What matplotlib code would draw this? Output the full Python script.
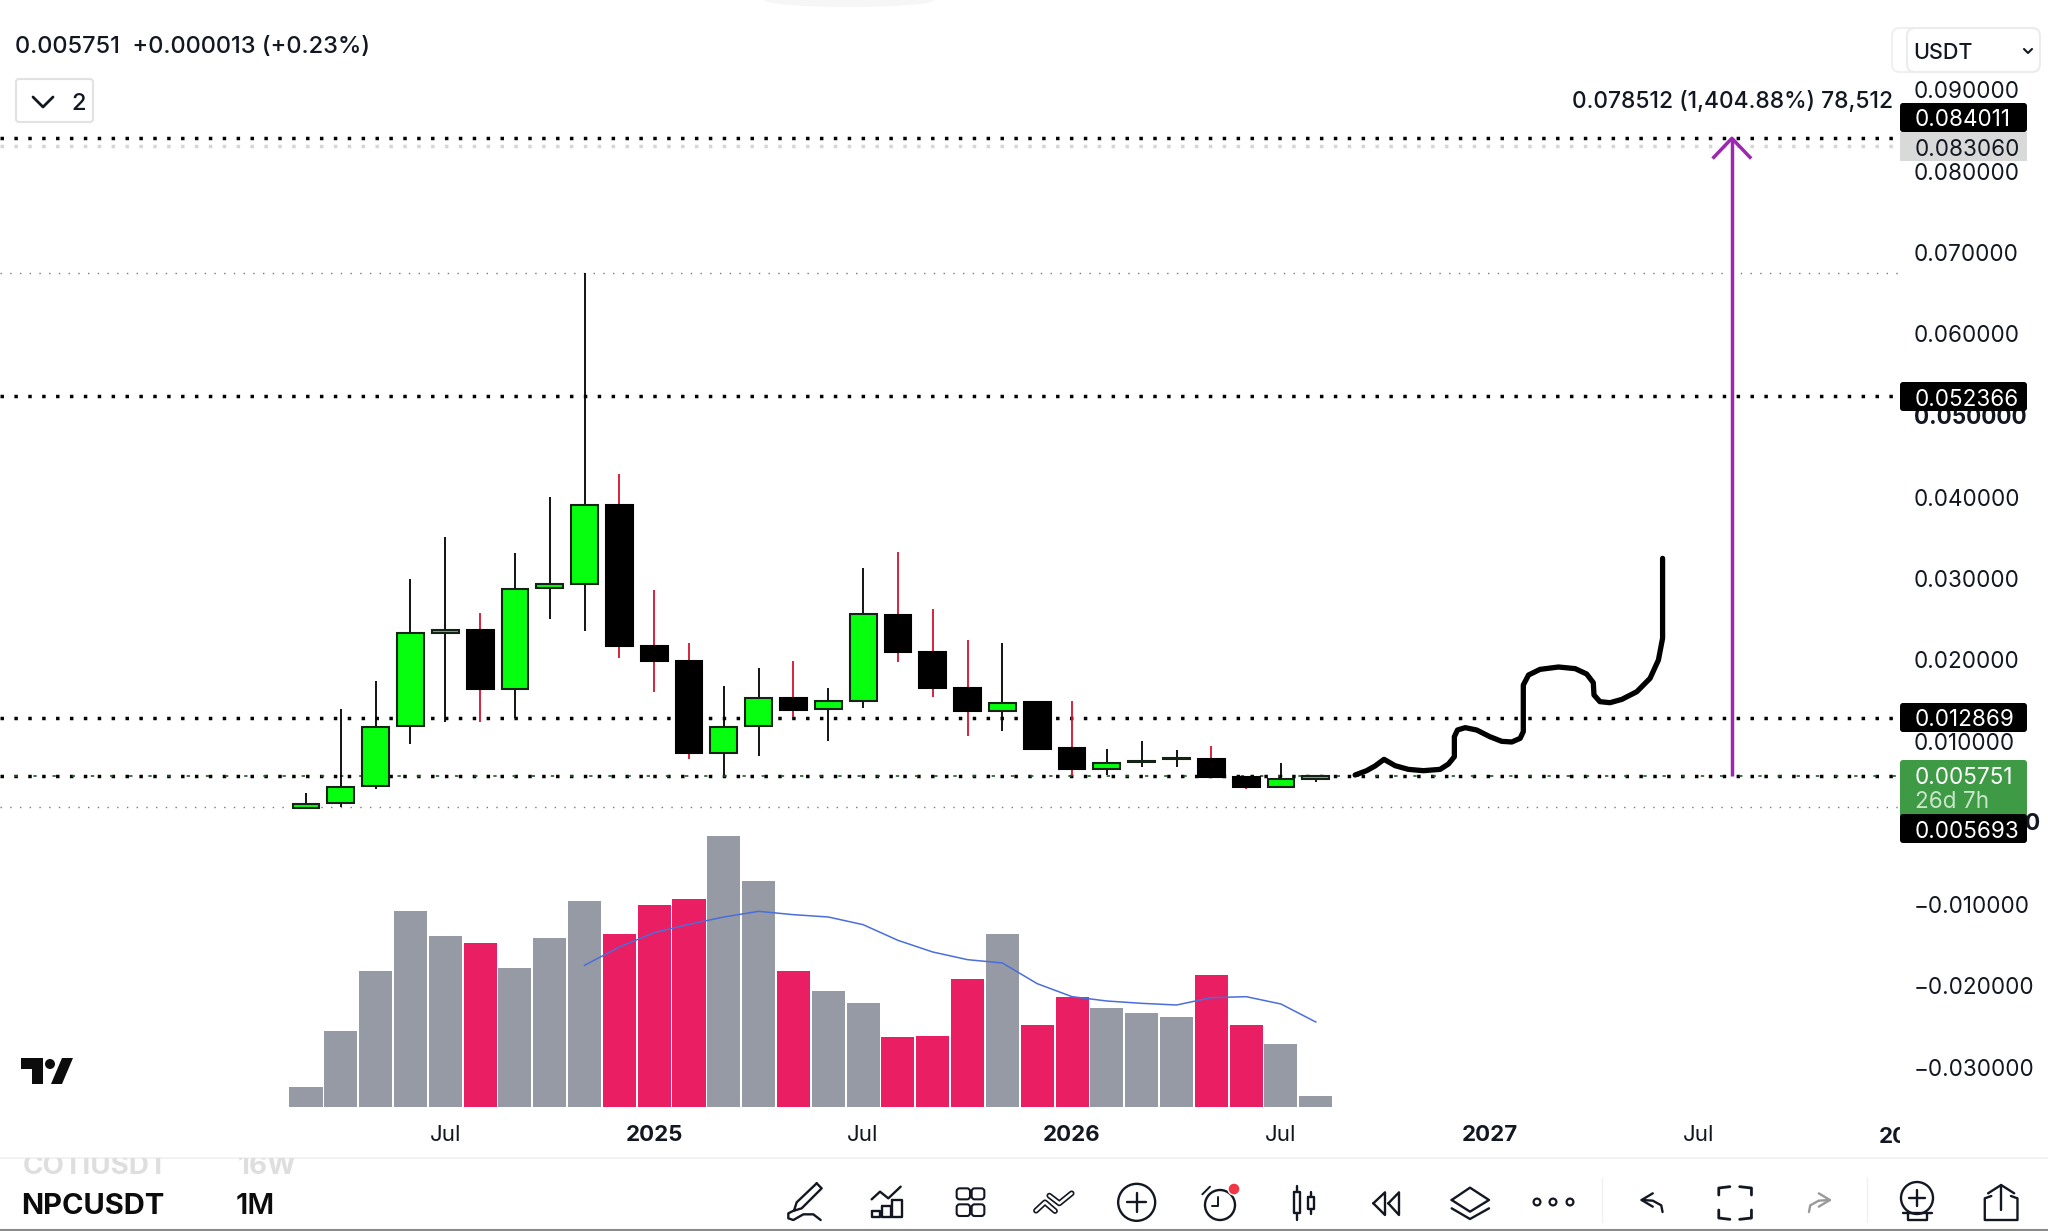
import matplotlib
matplotlib.use('Agg')
import matplotlib.pyplot as plt
from matplotlib.patches import Rectangle, FancyBboxPatch, Circle, Polygon, Ellipse
from matplotlib.transforms import Bbox

plt.rcParams['font.family'] = ['Inter', 'DejaVu Sans']

# monthly candles, index 0 = Mar 2024
opens = [.00186, .00245, .00449, .01185, .02333, .02374, .01648, .02878, .02928, .03899,
         .02170, .01993, .00858, .01185, .01534, .01395, .01501, .02556, .02098, .01660,
         .01370, .01481, .00916, .00667, .00752, .00790, .00789, .00564, .00442, .00540]
closes = [.00236, .00440, .01176, .02329, .02370, .01643, .02873, .02928, .03899, .02170,
          .01988, .00858, .01176, .01530, .01389, .01497, .02560, .02094, .01656, .01370,
          .01476, .00912, .00667, .00740, .00756, .00794, .00569, .00442, .00540, .00581]
highs = [.00372, .01394, .01739, .02991, .03504, .02578, .03309, .03995, .06745, .04281,
         .02855, .02206, .01680, .01906, .01984, .01652, .03133, .03321, .02626, .02245,
         .02204, .01481, .01493, .00904, .01002, .00892, .00949, .00564, .00736, .00581]
lows = [.00177, .00191, .00422, .00967, .01244, .01239, .01289, .02501, .02356, .02029,
        .01602, .00781, .00586, .00826, .01303, .01006, .01411, .01975, .01550, .01072,
        .01133, .00912, .00577, .00593, .00687, .00687, .00569, .00421, .00442, .00507]
volumes = [60, 227, 409, 589, 513, 493, 417, 508, 617, 518, 607, 623, 813, 677, 407,
           347, 313, 209, 212, 385, 518, 247, 331, 297, 281, 271, 395, 247, 188, 34]
volume_red = [5, 9, 10, 11, 14, 17, 18, 19, 21, 22, 26, 27]
vol_ma_idx = list(range(8, 30))
vol_ma = [425, 480, 523, 548, 570, 587, 577, 570, 547, 500, 465, 442, 432, 370, 331, 318,
          311, 306, 328, 331, 309, 255]

# hand drawn projection on the chart
sketch_idx = [30.13, 30.46, 30.70, 30.96, 31.28, 31.66, 32.09, 32.57, 32.81, 32.98, 32.98,
              33.07, 33.29, 33.62, 34.00, 34.34, 34.63, 34.87, 34.96, 34.96, 35.11, 35.44,
              35.97, 36.45, 36.78, 36.97, 36.99, 37.16, 37.45, 37.79, 38.22, 38.60, 38.84,
              38.96, 38.96]
sketch_price = [.00589, .00642, .00699, .00781, .00703, .00658, .00642, .00658, .00724,
                .00814, .01059, .01141, .01170, .01141, .01059, .01002, .00994, .01039,
                .01121, .01693, .01816, .01885, .01914, .01894, .01828, .01722, .01571,
                .01489, .01476, .01517, .01611, .01775, .02000, .02266, .03247]

price_ticks = [-.03, -.02, -.01, .01, .02, .03, .04, .05, .06, .07, .08, .09]
month_ticks = [4, 10, 16, 22, 28, 34, 40]
month_labels = ['Jul', '2025', 'Jul', '2026', 'Jul', '2027', 'Jul']
thick_levels = [0.084011, 0.052366, 0.012869, 0.005751]
thin_levels = [0.06745, 0.00192]
measure_x = 40.95
measure_from = 0.005751
measure_to = 0.084011

W, H = 2048, 1231
fig = plt.figure(figsize=(W / 100, H / 100), dpi=100, facecolor='white')
ax = fig.add_axes([0, (H - 1110) / H, 1900 / W, 1110 / H])
for s in ax.spines.values():
    s.set_visible(False)

dark = '#131722'
ax.set_yticks(price_ticks)
ax.set_yticklabels([f'{v:.6f}'.replace('-', '\u2212') for v in price_ticks], fontsize=16.2, color=dark)
ax.tick_params(axis='y', length=0, pad=10)
ax.set_xticks(month_ticks)
ax.set_xticklabels(month_labels, fontsize=16, color=dark)
ax.tick_params(axis='x', length=0, pad=11)
for t, name in zip(ax.get_xticklabels(), month_labels):
    if name != 'Jul':
        t.set_fontweight('bold')
ax.set_xlim(-306 / 34.82, (1900 - 306) / 34.82)
ax.set_ylim((823 - 1110) / 8150, 823 / 8150)

# levels
for lv in thin_levels:
    ax.axhline(lv, color='#777777', lw=1, ls=(0, (1, 6)), zorder=1)
ax.axhline(0.08306, color='#d6d6d6', lw=2.5, ls=(0, (1, 3)), zorder=1)
for lv in thick_levels:
    ax.axhline(lv, color='black', lw=2.5, ls=(0, (1, 3)), zorder=1.5)
ax.axhline(0.005751, color='#1b5e20', lw=1.2, ls=(3, (2, 9.5)), zorder=1.5)

# candles
for i in range(len(opens)):
    up = closes[i] >= opens[i]
    ax.plot([i, i], [lows[i], highs[i]], color='black' if up else '#d3122e', lw=1.3,
            solid_capstyle='butt', zorder=2)
    low_b, high_b = min(opens[i], closes[i]), max(opens[i], closes[i])
    ax.add_patch(Rectangle((i - 0.385, low_b), 0.77, high_b - low_b,
                           facecolor='#05ff0e' if up else 'black',
                           edgecolor='#142414' if up else 'black', lw=1.5, zorder=3))

ax.plot(sketch_idx, sketch_price, color='black', lw=3.8, solid_capstyle='round',
        solid_joinstyle='round', zorder=5)

# measure arrow
purple = '#9c27b0'
ax.plot([measure_x, measure_x], [measure_from, measure_to], color=purple, lw=2.5,
        solid_capstyle='butt', zorder=6)
ax.plot([measure_x - .52, measure_x, measure_x + .52], [measure_to - .00233, measure_to, measure_to - .00233],
        color=purple, lw=2.5, zorder=6)

# volume pane shares the x axis
ax2 = ax.twinx()
ax2.set_ylim(-9, 3321)
ax2.yaxis.set_visible(False)
for s in ax2.spines.values():
    s.set_visible(False)
ax.yaxis.tick_right()  # twinx moves them back to the left
for tick, v in zip(ax.yaxis.get_major_ticks(), price_ticks):
    if v == .05:
        tick.label2.set_fontweight('bold')
colors = ['#e91e63' if i in volume_red else '#969aa5' for i in range(len(volumes))]
ax2.bar(range(len(volumes)), volumes, width=0.95, color=colors)
ax2.plot(vol_ma_idx, vol_ma, color='#4a6edb', lw=1.1)
ax2.set_xlim(-306 / 34.82, (1900 - 306) / 34.82)

# page chrome drawn in pixels
ui = fig.add_axes([0, 0, 1, 1])
ui.set_xlim(0, W)
ui.set_ylim(H, 0)
ui.axis('off')
ui.patch.set_alpha(0)


def box(x0, y0, x1, y1, fc, ec='none', r=3, z=3, lw=1.5):
    ui.add_patch(FancyBboxPatch((x0 + r, y0 + r), x1 - x0 - 2 * r, y1 - y0 - 2 * r,
                                boxstyle=f'round,pad={r},rounding_size={r}', fc=fc, ec=ec, lw=lw, zorder=z))


def label(x, y, s, color=dark, size=16.2, weight='normal', ha='left', z=4):
    return ui.text(x, y, s, color=color, fontsize=size, fontweight=weight, ha=ha, va='center_baseline', zorder=z)


def stroke(points, color=dark, lw=1.7, closed=False):
    if closed:
        points = points + [points[0]]
    ui.plot([p[0] for p in points], [p[1] for p in points], color=color, lw=lw,
            solid_capstyle='round', solid_joinstyle='round', zorder=4)


ui.add_patch(Ellipse((850, 0), 170, 14, fc='#f6f6f6', ec='none', zorder=0))
label(15, 45, '0.005751  +0.000013 (+0.23%)', size=17, weight='medium')
box(16, 79, 93, 122, 'white', '#e2e2e2')
stroke([(33, 97), (43, 107), (53, 97)], lw=2)
label(71, 101, '2', size=17, weight='medium')

box(1892, 28, 1920, 72, 'white', '#f0f0f0', r=8)
box(1907, 28, 2040, 72, 'white', '#ececec', r=8)
label(1913, 51, 'USDT', size=15.5, weight='medium')
stroke([(2024, 49), (2028, 53), (2032, 49)], lw=1.5)

label(1893, 100, '0.078512 (1,404.88%) 78,512', ha='right', size=16.4, weight='medium')

# last time label runs off the pane
t = label(1908, 1135, '2028', size=16, weight='bold', ha='center')
t.set_clip_box(Bbox([[0, 0], [1900, H]]))
t.set_clip_on(True)

# price tags on the axis
label(2040, 822, '0.000000', size=16.5, weight='bold', ha='right', z=1)
box(1900, 103, 2027, 132, 'black')
label(1915, 118, '0.084011', 'white')
ui.add_patch(Rectangle((1900, 132), 127, 29, fc='#d9d9d9', ec='none', zorder=3))
label(1915, 147, '0.083060')
box(1900, 382, 2027, 411, 'black')
label(1915, 397, '0.052366', 'white')
box(1900, 703, 2027, 732, 'black')
label(1915, 718, '0.012869', 'white')
box(1900, 760, 2027, 818, '#3f9a46')
label(1915, 776, '0.005751', 'white')
label(1915, 800, '26d 7h', '#c8e6c9')
box(1900, 814, 2027, 843, 'black')
label(1915, 829, '0.005693', 'white')

# tradingview mark
ui.add_patch(Polygon([(21, 1058), (43, 1058), (43, 1084), (32, 1084), (32, 1069), (21, 1069)], fc='#0c0c0c', ec='none'))
ui.add_patch(Circle((50, 1064), 5, fc='#0c0c0c', ec='none'))
ui.add_patch(Polygon([(62, 1058), (73, 1058), (62, 1084), (51, 1084)], fc='#0c0c0c', ec='none'))

# bottom bar
ui.plot([0, W], [1158, 1158], color='#f0f0f0', lw=1.2)
ui.plot([0, W], [1230, 1230], color='#8a8a8a', lw=1.5)
for tx, name in [(23, 'COTIUSDT'), (238, '16W')]:
    t = label(tx, 1164, name, '#dedede', size=20, weight='bold')
    t.set_clip_box(Bbox([[0, 0], [W, H - 1158]]))
    t.set_clip_on(True)
label(21, 1204, 'NPCUSDT', '#0c0c0c', size=21, weight='bold')
label(236, 1204, '1M', '#0c0c0c', size=21, weight='semibold')
ui.plot([1602, 1602], [1178, 1222], color='#f0f0f0', lw=1)
ui.plot([1867, 1867], [1178, 1222], color='#f0f0f0', lw=1)


def left(x, y):
    return (770 + x / 3, 1165 + y / 3)


def mid(x, y):
    return (1110 + x / 3, 1165 + y / 3)


def right(x, y):
    return (1024 + x / 1.53, 1130 + y / 3)


# pen
stroke([left(140, 55), left(155, 70), left(95, 130), left(72, 137), left(80, 112)], closed=True)
stroke([left(152, 165), left(130, 148), left(100, 148), left(70, 165), left(55, 160), left(55, 145), left(75, 135)])
# indicators
stroke([left(305, 103), left(330, 80), left(355, 100), left(392, 65)])
for x0, y0, x1 in [(305, 138, 330), (335, 122, 362), (365, 105, 395)]:
    stroke([left(x0, y0), left(x1, y0), left(x1, 157), left(x0, 157)], closed=True)
# layout grid
for x0, y0, x1, y1 in [(560, 70, 600, 103), (605, 70, 643, 103), (560, 118, 600, 153), (605, 118, 643, 153)]:
    a, b = left(x0, y0), left(x1, y1)
    box(a[0], a[1], b[0], b[1], 'none', dark, r=3, z=4)
# double chevron
for pts in [[left(798, 137), left(825, 112), left(855, 138)], [left(838, 92), left(868, 115), left(905, 85)]]:
    stroke(pts, lw=4.2)
    stroke(pts, color='white', lw=1.8)
# add
ui.add_patch(Circle(mid(80, 112), 18.5, fc='none', ec=dark, lw=1.7))
stroke([mid(52, 112), mid(108, 112)])
stroke([mid(80, 84), mid(80, 140)])
# alarm
ui.add_patch(Circle(mid(330, 120), 15, fc='none', ec=dark, lw=1.7))
stroke([mid(325, 95), mid(325, 122), mid(305, 122)], lw=1.4)
stroke([mid(277, 88), mid(300, 65)], lw=1.4)
ui.add_patch(Circle(mid(372, 72), 6, fc='#f23645', ec='white', lw=1, zorder=5))
# candle type
stroke([mid(552, 82), mid(570, 82), mid(570, 145), mid(552, 145)], closed=True)
stroke([mid(561, 62), mid(561, 82)])
stroke([mid(561, 145), mid(561, 165)])
stroke([mid(594, 95), mid(612, 95), mid(612, 132), mid(594, 132)], closed=True)
stroke([mid(603, 82), mid(603, 95)])
stroke([mid(603, 132), mid(603, 148)])
# replay
stroke([mid(790, 115), mid(825, 82), mid(825, 150)], closed=True)
stroke([mid(835, 115), mid(867, 82), mid(867, 150)], closed=True)
# layers
stroke([mid(1025, 105), mid(1080, 68), mid(1137, 105), mid(1080, 140)], closed=True)
stroke([mid(1025, 130), mid(1080, 162), mid(1137, 130)])
# more
for x in [1537, 1553, 1570]:
    ui.add_patch(Circle((x, 1202), 3.4, fc='none', ec=dark, lw=1.6))
# undo, fullscreen, redo
stroke([right(945, 210), right(962, 212), right(975, 226), right(977, 246)])
stroke([right(962, 190), right(945, 210), right(962, 230)])
for pts in [[(1063, 195), (1063, 174), (1080, 170)], [(1095, 170), (1113, 174), (1113, 195)],
            [(1063, 240), (1063, 264), (1080, 268)], [(1095, 268), (1113, 264), (1113, 240)]]:
    stroke([right(*p) for p in pts], lw=2)
stroke([right(1233, 210), right(1216, 212), right(1203, 226), right(1201, 246)], color='#9a9a9a')
stroke([right(1216, 190), right(1233, 210), right(1216, 230)], color='#9a9a9a')
# idea bulb
ui.add_patch(Circle((1917, 1198), 16, fc='none', ec=dark, lw=1.7))
stroke([(1909, 1198), (1925, 1198)])
stroke([(1917, 1190), (1917, 1206)])
stroke([right(1345, 250), right(1390, 250)])
stroke([right(1353, 250), right(1353, 270), right(1381, 270), right(1381, 250)])
# share
stroke([right(1480, 198), right(1470, 205), right(1470, 270), right(1520, 270), right(1520, 205), right(1510, 198)])
stroke([right(1495, 165), right(1495, 240)])
stroke([right(1475, 190), right(1495, 165), right(1515, 190)])

plt.savefig('out.png', dpi=100)
